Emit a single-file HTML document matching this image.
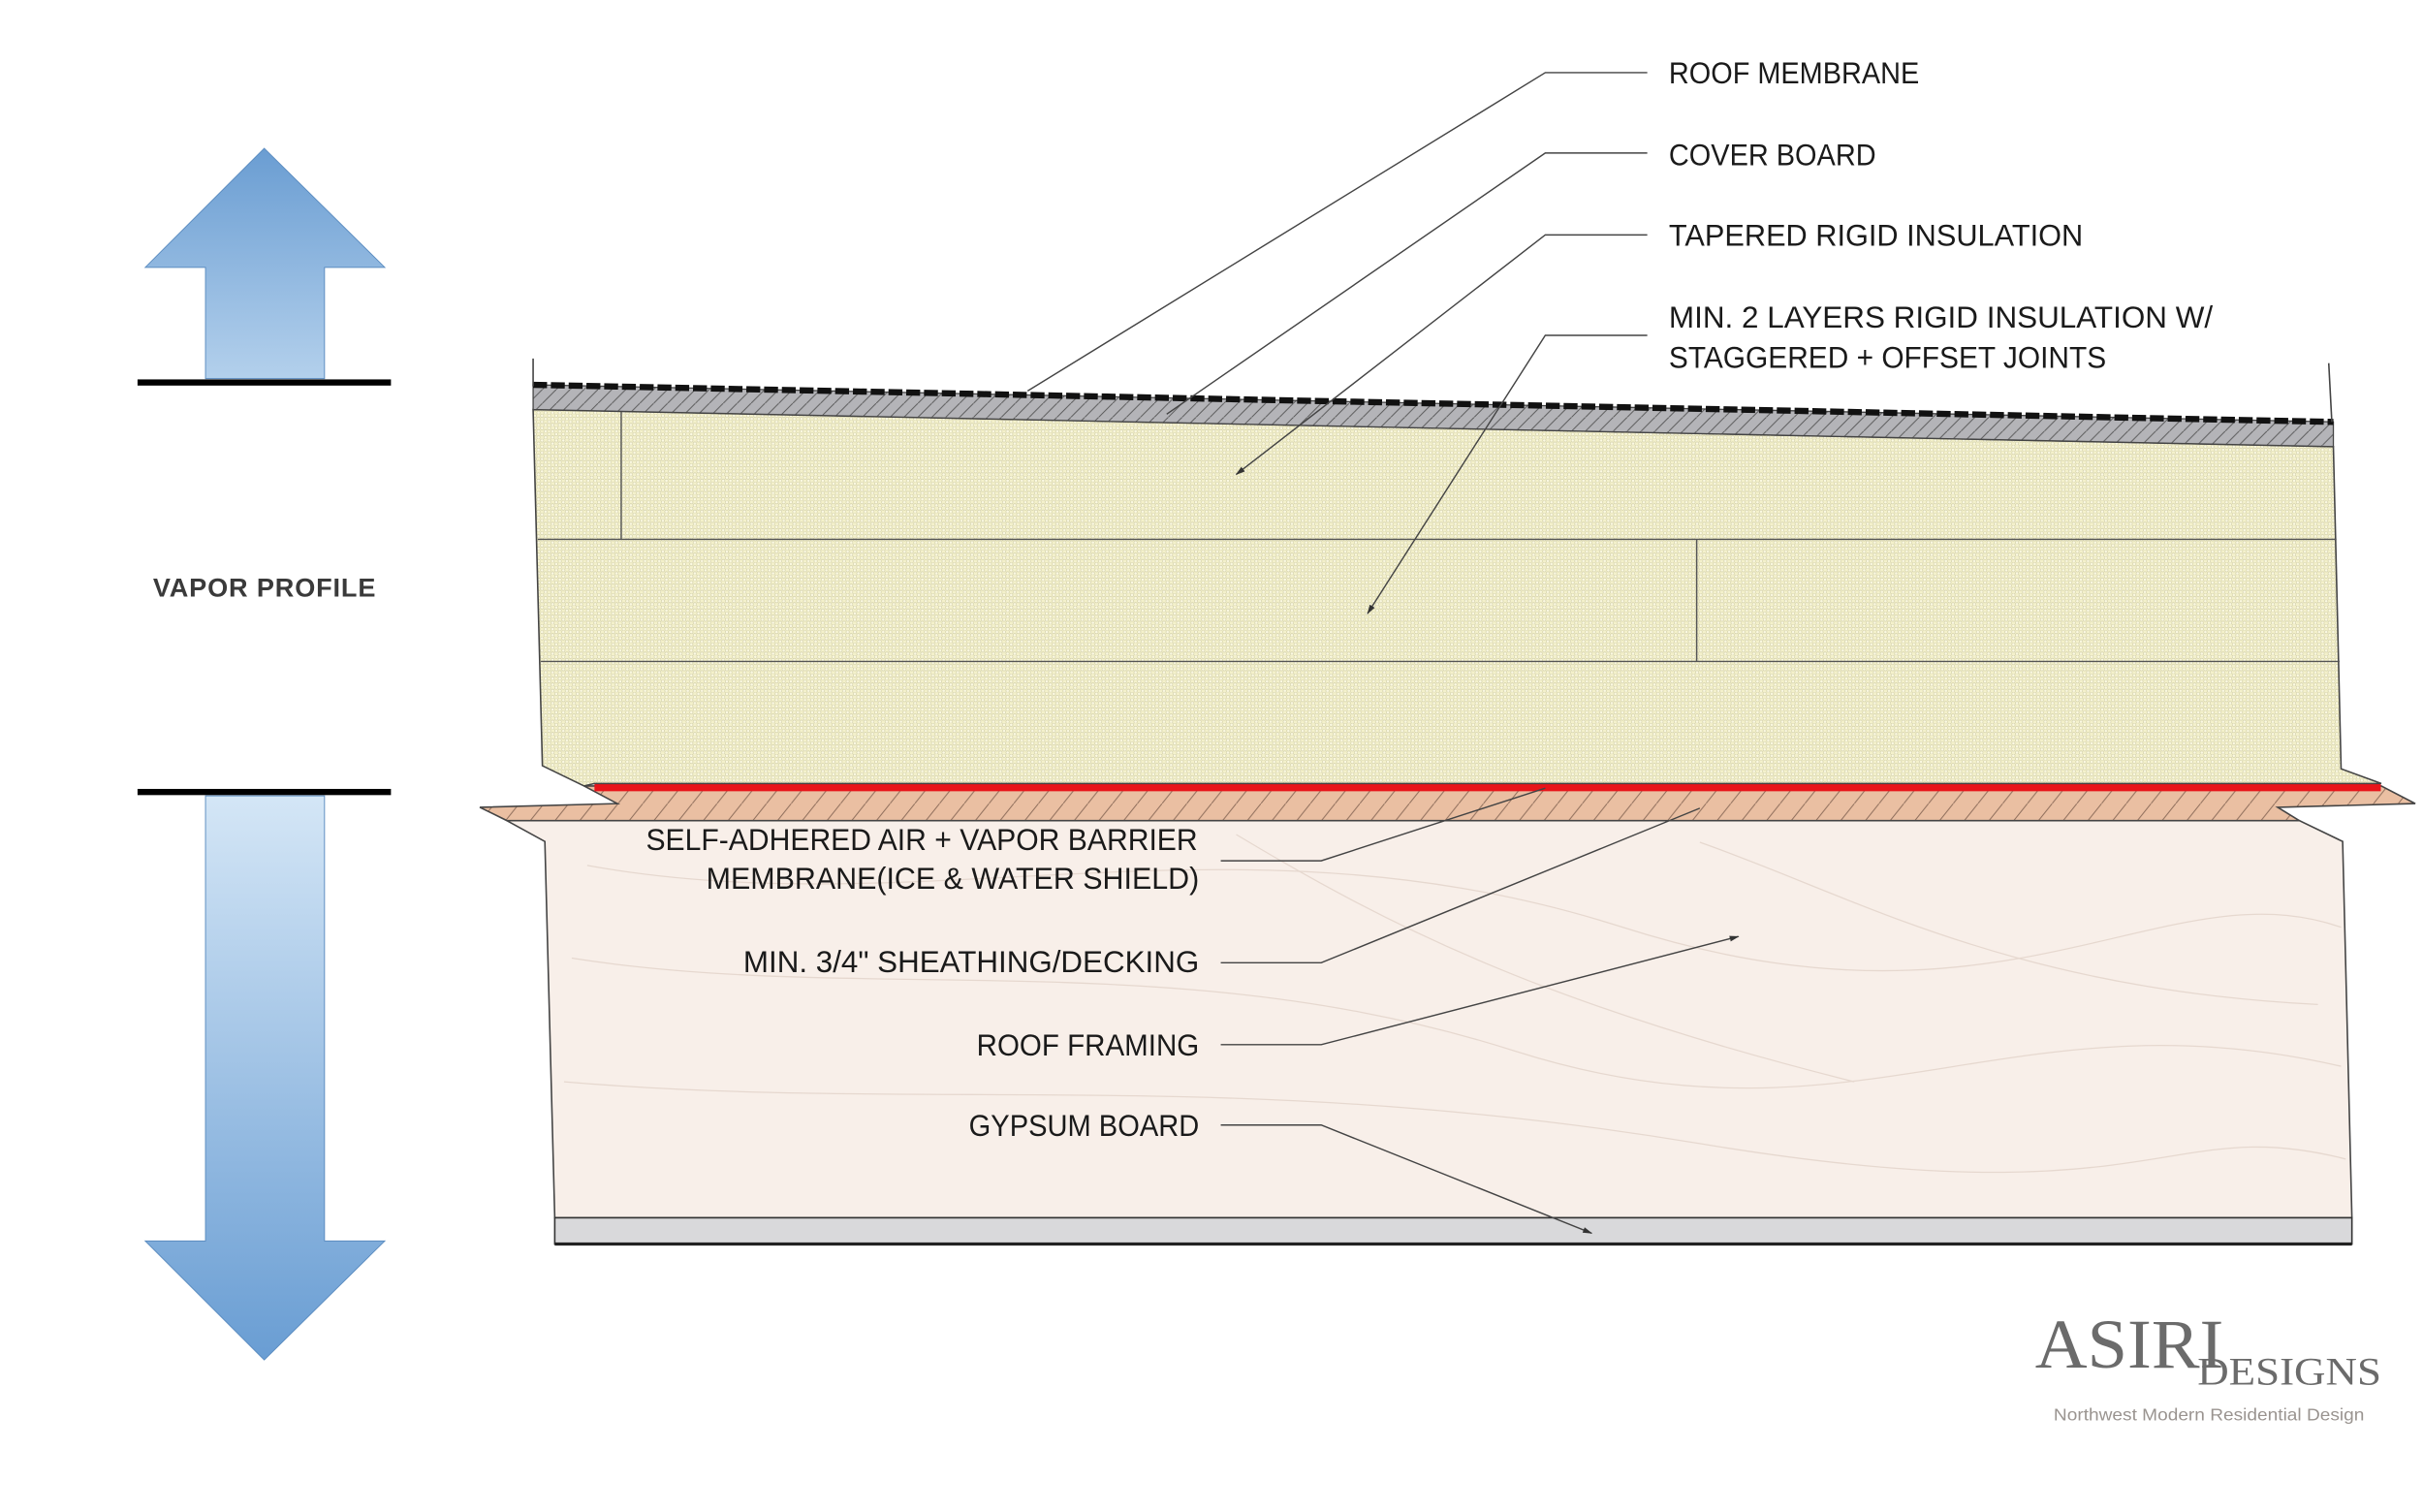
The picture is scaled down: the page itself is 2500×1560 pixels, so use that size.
<!DOCTYPE html>
<html><head><meta charset="utf-8"><style>html,body{margin:0;padding:0;background:#fff}svg{display:block}</style></head>
<body>
<svg width="2500" height="1560" viewBox="0 0 1568 978.4" preserveAspectRatio="none" xmlns="http://www.w3.org/2000/svg">
<defs>
<linearGradient id="gu" x1="0" y1="1" x2="0" y2="0"><stop offset="0" stop-color="#b3d0ec"/><stop offset="1" stop-color="#6a9dd2"/></linearGradient>
<linearGradient id="gd" x1="0" y1="0" x2="0" y2="1"><stop offset="0" stop-color="#d4e6f6"/><stop offset="1" stop-color="#699dd3"/></linearGradient>
<pattern id="ins" width="4.6" height="4" patternUnits="userSpaceOnUse">
<rect width="4.6" height="4" fill="#f4f1cb"/>
<circle cx="1.15" cy="1" r="1.05" fill="#fbf9e2" stroke="#c9c6a0" stroke-width="0.35"/>
<circle cx="3.45" cy="3" r="1.05" fill="#fbf9e2" stroke="#c9c6a0" stroke-width="0.35"/>
</pattern>
<pattern id="hg" width="9" height="9" patternUnits="userSpaceOnUse">
<rect width="9" height="9" fill="#b4b4b8"/><path d="M0 9 L9 0" stroke="#555" stroke-width="0.6"/>
</pattern>
<pattern id="hs" width="16" height="20" patternUnits="userSpaceOnUse">
<rect width="16" height="20" fill="#eabfa2"/><path d="M0 20 L16 0" stroke="#8a6a58" stroke-width="0.6"/>
</pattern>
<marker id="ar" viewBox="0 0 10 10" refX="9" refY="5" markerWidth="7" markerHeight="7" orient="auto"><path d="M0 2 L10 5 L0 8z" fill="#333"/></marker>
</defs>

<!-- arrows -->
<polygon points="171,96 249,173 210,173 210,245 133,245 133,173 94,173" fill="url(#gu)" stroke="#5b8cc0" stroke-width="0.6"/>
<rect x="89" y="245.5" width="164" height="4" fill="#000"/>
<rect x="89" y="510.5" width="164" height="4" fill="#000"/>
<polygon points="133,515 210,515 210,803 249,803 171,880 94,803 133,803" fill="url(#gd)" stroke="#5b8cc0" stroke-width="0.6"/>
<text x="171" y="386" text-anchor="middle" font-family="Liberation Sans, sans-serif" font-size="17" font-weight="bold" fill="#3a3a3a" textLength="144">VAPOR PROFILE</text>

<!-- framing -->
<polygon points="328,531 1488,531 1516,544.5 1522,788 359,788 352.6,544.5" fill="#f8efe9" stroke="#444" stroke-width="1"/>
<g fill="none" stroke="#e6d8cf" stroke-width="0.8">
<path d="M380 560 C600 600 800 520 1050 600 S1400 560 1515 600"/>
<path d="M370 620 C560 650 760 610 980 680 S1300 640 1515 690"/>
<path d="M365 700 C600 720 800 690 1100 740 S1400 720 1518 750"/>
<path d="M800 540 C900 600 1000 650 1200 700"/>
<path d="M1100 545 C1200 580 1300 640 1500 650"/>
</g>
<!-- gypsum -->
<rect x="359" y="788" width="1163" height="17" fill="#d9d9db" stroke="#333" stroke-width="1"/>
<line x1="359" y1="805" x2="1522" y2="805" stroke="#222" stroke-width="2"/>

<!-- sheathing -->
<polygon points="378,508.6 1541,508.6 1563,520 1474,522.4 1488,531 328,531 310.5,522.4 399.5,520" fill="url(#hs)" stroke="#444" stroke-width="1"/>
<!-- red membrane -->
<rect x="384.7" y="507" width="1156" height="5" fill="#e8141a"/>

<!-- insulation -->
<polygon points="345,265 1510,289 1515,497.5 1541,507 384.7,507 378,508.6 351,495.5" fill="url(#ins)" stroke="#444" stroke-width="1"/>
<g stroke="#555" stroke-width="0.9">
<line x1="348" y1="349" x2="1512" y2="349"/>
<line x1="350" y1="428" x2="1514" y2="428"/>
<line x1="402" y1="266" x2="402" y2="349"/>
<line x1="1098" y1="349" x2="1098" y2="428"/>
</g>
<!-- cover board -->
<polygon points="345,249 1510,273 1510,289 345,265" fill="url(#hg)" stroke="#444" stroke-width="0.8"/>
<line x1="345" y1="249" x2="1510" y2="273" stroke="#111" stroke-width="4" stroke-dasharray="9,2.5"/>
<line x1="345" y1="232" x2="345" y2="250" stroke="#444" stroke-width="1"/>
<line x1="1507" y1="235" x2="1509" y2="273" stroke="#444" stroke-width="1"/>

<!-- leaders -->
<g fill="none" stroke="#444" stroke-width="0.9">
<polyline points="1066,47 1000,47 665,253"/>
<polyline points="1066,99 1000,99 755,268"/>
<polyline points="1066,152 1000,152 800,307" marker-end="url(#ar)"/>
<polyline points="1066,217 1000,217 885,397" marker-end="url(#ar)"/>
<polyline points="790,557 855,557 1000,510"/>
<polyline points="790,623 855,623 1100,523"/>
<polyline points="790,676 855,676 1125,606" marker-end="url(#ar)"/>
<polyline points="790,728 855,728 1030,798" marker-end="url(#ar)"/>
</g>

<g font-family="Liberation Sans, sans-serif" font-size="20" fill="#1a1a1a">
<text x="1080" y="54" textLength="162" lengthAdjust="spacingAndGlyphs">ROOF MEMBRANE</text>
<text x="1080" y="107" textLength="134" lengthAdjust="spacingAndGlyphs">COVER BOARD</text>
<text x="1080" y="159" textLength="268" lengthAdjust="spacingAndGlyphs">TAPERED RIGID INSULATION</text>
<text x="1080" y="212" textLength="352" lengthAdjust="spacingAndGlyphs">MIN. 2 LAYERS RIGID INSULATION W/</text>
<text x="1080" y="238" textLength="283" lengthAdjust="spacingAndGlyphs">STAGGERED + OFFSET JOINTS</text>
<text x="418" y="550" textLength="357" lengthAdjust="spacingAndGlyphs">SELF-ADHERED AIR + VAPOR BARRIER</text>
<text x="457" y="575" textLength="319" lengthAdjust="spacingAndGlyphs">MEMBRANE(ICE &amp; WATER SHIELD)</text>
<text x="481" y="629" textLength="295" lengthAdjust="spacingAndGlyphs">MIN. 3/4" SHEATHING/DECKING</text>
<text x="632" y="683" textLength="144" lengthAdjust="spacingAndGlyphs">ROOF FRAMING</text>
<text x="627" y="735" textLength="149" lengthAdjust="spacingAndGlyphs">GYPSUM BOARD</text>
</g>

<!-- logo -->
<text x="1317" y="885" font-family="Liberation Serif, serif" font-size="45" fill="#6b6b6b" textLength="122" lengthAdjust="spacingAndGlyphs">ASIRI</text>
<text x="1422" y="896" font-family="Liberation Serif, serif" font-size="25" fill="#6b6b6b" textLength="119" lengthAdjust="spacingAndGlyphs">DESIGNS</text>
<text x="1329" y="919" font-family="Liberation Sans, sans-serif" font-size="11" fill="#9a9490" textLength="201" lengthAdjust="spacingAndGlyphs">Northwest Modern Residential Design</text>
</svg>
</body></html>
